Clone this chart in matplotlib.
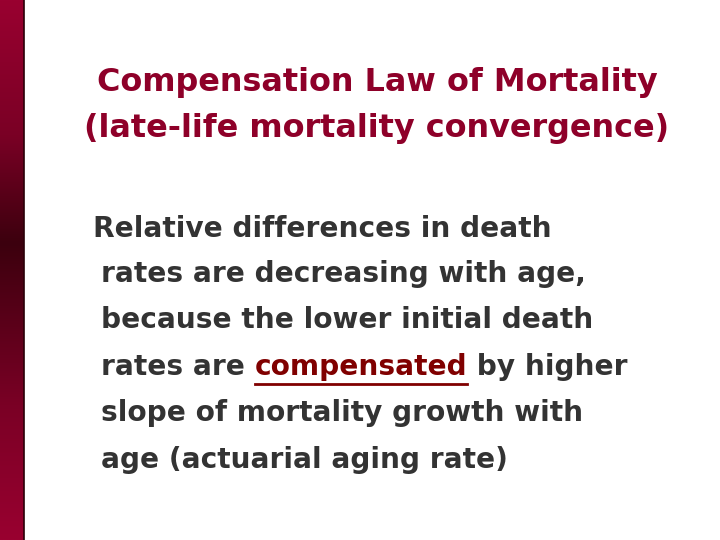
import matplotlib
matplotlib.use("Agg")
import matplotlib.pyplot as plt
import numpy as np
from matplotlib.colors import LinearSegmentedColormap

title_lines = ["Compensation Law of Mortality", "(late-life mortality convergence)"]
body_lines = [
    ["Relative differences in death"],
    ["rates are decreasing with age,"],
    ["because the lower initial death"],
    ["rates are ", "compensated", " by higher"],
    ["slope of mortality growth with"],
    ["age (actuarial aging rate)"],
]
body_x = [93, 101, 101, 101, 101, 101]
body_y = [229, 274, 320, 367, 413, 460]
title_y = [83, 128]

W, H = 720, 540
fig = plt.figure(figsize=(7.2, 5.4), dpi=100)
fig.patch.set_facecolor("white")

# left gradient bar
bar = fig.add_axes([0, 0, 24 / W, 1])
cmap = LinearSegmentedColormap.from_list(
    "bar", [(0, "#990030"), (0.25, "#7a0025"), (0.45, "#3c000e"), (0.75, "#7a0025"), (1, "#990030")])
grad = np.linspace(0, 1, 256).reshape(-1, 1)
bar.imshow(grad, aspect="auto", cmap=cmap, extent=[0, 1, 1, 0])
bar.set_axis_off()
fig.add_artist(plt.Line2D([24.5 / W, 24.5 / W], [0, 1], color="#2a0008", lw=1.2))

renderer = fig.canvas.get_renderer()


def px(x, y):
    return x / W, 1 - y / H


# title, sized to the reference width
t = fig.text(0.5, 0.5, title_lines[0], fontsize=20, fontweight="bold")
tw = t.get_window_extent(renderer).width
t.remove()
title_fs = 20 * 562 / tw
for line, y in zip(title_lines, title_y):
    fig.text(377 / W, 1 - y / H, line, fontsize=title_fs, fontweight="bold",
             color="#8e0029", ha="center", va="center")

# body
t = fig.text(0.5, 0.5, body_lines[0][0], fontsize=20, fontweight="bold")
bw = t.get_window_extent(renderer).width
t.remove()
body_fs = 20 * 458 / bw

for parts, x, y in zip(body_lines, body_x, body_y):
    cx = x
    for part in parts:
        col = "#800000" if part == "compensated" else "#333333"
        txt = fig.text(cx / W, 1 - y / H, part, fontsize=body_fs, fontweight="bold",
                       color=col, ha="left", va="center")
        ext = txt.get_window_extent(renderer)
        if part == "compensated":
            uy = 1 - (y + 17) / H
            fig.add_artist(plt.Line2D([cx / W, (cx + ext.width) / W], [uy, uy],
                                      color="#800000", lw=2))
        cx += ext.width

fig.savefig("out.png", dpi=100)
